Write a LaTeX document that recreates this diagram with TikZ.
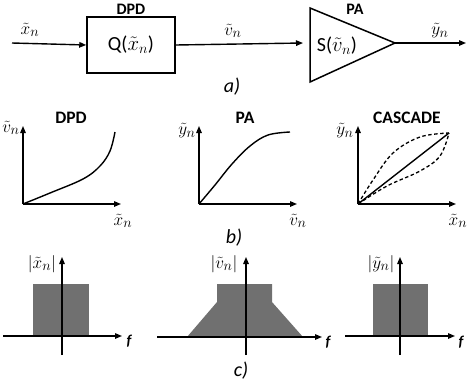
\documentclass[tikz,border=0pt]{standalone}
\usepackage{fontspec}
\setmainfont{Carlito}
\usetikzlibrary{arrows.meta}
\definecolor{fillg}{RGB}{112,112,112}
\begin{document}
\begin{tikzpicture}[x=1pt,y=-1pt,line width=1.4pt,
  arr/.style={-{Triangle[length=7pt,width=5.5pt]}},
  ttl/.style={font=\fontsize{16}{16}\selectfont\bfseries},
  ttlb/.style={font=\fontsize{17.5}{17.5}\selectfont\bfseries},
  lbl/.style={font=\fontsize{20}{20}\selectfont,inner sep=0pt},
  ml/.style={font=\fontsize{19}{19}\selectfont,inner sep=0pt},
  captxt/.style={font=\fontsize{20}{20}\selectfont\itshape,inner sep=0pt},
  ff/.style={font=\fontsize{15}{15}\selectfont\bfseries\itshape,inner sep=0pt},
  curve/.style={line width=1.4pt},
  dsh/.style={line width=1.3pt,dash pattern=on 3.5pt off 2.5pt},
  spec/.style={fill=fillg,draw=none}]
\useasboundingbox (0,0) rectangle (474,381);
% ---------- a) ----------
\coordinate (in) at (12,43);
\node[draw,minimum width=88pt,minimum height=56pt,inner sep=0pt,line width=1.5pt,font=\fontsize{20}{20}\selectfont] (dpd) at (131,45) {Q($\tilde{x}_n$)};
\node[ttl] (dpdt) at (131,9) {DPD};
\coordinate (pa1) at (310,8);
\coordinate (pa2) at (310,82);
\coordinate (pa3) at (395,43);
\coordinate (paw) at (303,43);
\draw[line width=1.5pt] (pa1) -- (pa3) -- (pa2) -- cycle;
\node[lbl] (sv) at (337,46) {S($\tilde{v}_n$)};
\node[ttl] (pat) at (355,9) {PA};
\coordinate (out) at (466,43);
\draw[arr] (in) -- (dpd.west);
\draw[arr] (dpd.east) -- (paw);
\draw[arr] (pa3) -- (out);
\node[ml] (lx) at (30,30) {$\tilde{x}_n$};
\node[ml] (lv) at (233,31) {$\tilde{v}_n$};
\node[ml] (ly) at (440,31) {$\tilde{y}_n$};
\node[captxt] (ca) at (232,87) {a)};
% ---------- b) ----------
% DPD
\coordinate (o1) at (23,204);
\coordinate (y1) at (23,126);
\coordinate (x1) at (121,204);
\draw[arr] (o1) -- (y1);
\draw[arr] (o1) -- (x1);
\draw[curve] plot[smooth,tension=0.6] coordinates {(23,204) (50,193) (83,179) (100,166) (110,151) (115,132)};
\node[ttlb] (t1) at (71,118) {DPD};
\node[ml] (l1y) at (11,128) {$\tilde{v}_n$};
\node[ml] (l1x) at (123,221) {$\tilde{x}_n$};
% PA
\coordinate (o2) at (199,204);
\coordinate (y2) at (199,126);
\coordinate (x2) at (297,204);
\draw[arr] (o2) -- (y2);
\draw[arr] (o2) -- (x2);
\draw[curve] plot[smooth,tension=0.6] coordinates {(199,204) (215,185) (232,164) (250,146) (268,135) (290,132)};
\node[ttlb] (t2) at (245,118) {PA};
\node[ml] (l2y) at (187,131) {$\tilde{y}_n$};
\node[ml] (l2x) at (298,221) {$\tilde{v}_n$};
% CASCADE
\coordinate (o3) at (358,204);
\coordinate (y3) at (358,126);
\coordinate (x3) at (456,204);
\draw[arr] (o3) -- (y3);
\draw[arr] (o3) -- (x3);
\coordinate (e3) at (449,133);
\draw[curve] (o3) -- (e3);
\draw[dsh] plot[smooth,tension=0.6] coordinates {(358,204) (373,180) (393,153) (420,137) (449,133)};
\draw[dsh] plot[smooth,tension=0.6] coordinates {(358,204) (387,186) (420,171) (440,156) (449,133)};
\node[ttlb] (t3) at (407,118) {CASCADE};
\node[ml] (l3y) at (345,131) {$\tilde{y}_n$};
\node[ml] (l3x) at (458,221) {$\tilde{x}_n$};
\node[captxt] (cb) at (234,238) {b)};
% ---------- c) ----------
% spectrum 1
\fill[spec] (33,284) rectangle (89,336);
\coordinate (c1b) at (62,355);
\coordinate (c1t) at (62,257);
\coordinate (c1l) at (3,336);
\coordinate (c1r) at (122,336);
\draw[arr] (c1b) -- (c1t);
\draw[arr] (c1l) -- (c1r);
\node[ml] (s1) at (42,264) {$|\tilde{x}_n|$};
\node[ff] (f1) at (129,341) {f};
% spectrum 2
\fill[spec] (217,284) -- (272,284) -- (272,302) -- (303,337) -- (187,337) -- (217,302) -- cycle;
\coordinate (c2b) at (246,355);
\coordinate (c2t) at (246,257);
\coordinate (c2l) at (157,337);
\coordinate (c2r) at (322,337);
\draw[arr] (c2b) -- (c2t);
\draw[arr] (c2l) -- (c2r);
\node[ml] (s2) at (224,264) {$|\tilde{v}_n|$};
\node[ff] (f2) at (328,342) {f};
% spectrum 3
\fill[spec] (373,284) rectangle (428,336);
\coordinate (c3b) at (400,355);
\coordinate (c3t) at (400,257);
\coordinate (c3l) at (345,336);
\coordinate (c3r) at (455,336);
\draw[arr] (c3b) -- (c3t);
\draw[arr] (c3l) -- (c3r);
\node[ml] (s3) at (381,264) {$|\tilde{y}_n|$};
\node[ff] (f3) at (461,342) {f};
\node[captxt] (cc) at (241,371) {c)};
\end{tikzpicture}
\end{document}
